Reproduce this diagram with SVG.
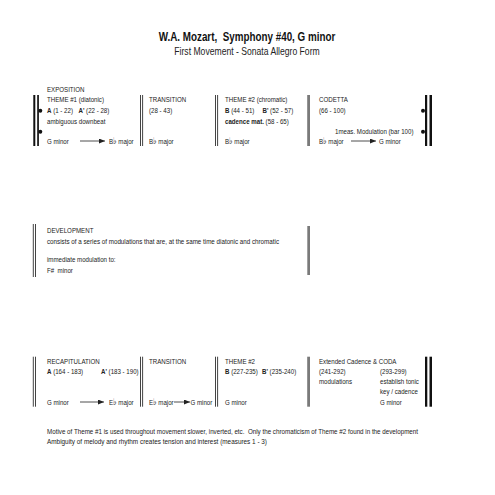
<svg xmlns="http://www.w3.org/2000/svg" width="495" height="495" viewBox="0 0 495 495">
<style>
.t{font-family:"Liberation Sans",Arial,"DejaVu Sans",sans-serif;font-size:7.5px;fill:#222}
.b{font-weight:bold}
.fl{font-family:"DejaVu Sans",sans-serif;font-size:9px}
.ti{font-family:"Liberation Sans",Arial,sans-serif;font-size:12px;font-weight:bold;fill:#111;text-anchor:middle}
.st{font-family:"Liberation Sans",Arial,sans-serif;font-size:10.5px;fill:#222;text-anchor:middle}
.thin{stroke:#444;stroke-width:1}
.heavy{fill:#111}
.gray{fill:#7a7a7a}
.arr{stroke:#222;stroke-width:0.8;fill:none;marker-end:url(#ah)}
</style>
<defs>
<marker id="ah" markerUnits="userSpaceOnUse" markerWidth="6" markerHeight="5" refX="6" refY="2.5" orient="auto">
<path d="M0,0 L6,2.5 L0,5 Z" fill="#222"/>
</marker>
</defs>
<rect width="495" height="495" fill="#fff"/>

<g id="title">
<text class="ti" transform="translate(247 41) scale(0.82 1)">W.A. Mozart,&#160; Symphony #40, G minor</text>
<text class="st" transform="translate(247 54.5) scale(0.82 1)">First Movement - Sonata Allegro Form</text>
</g>

<g id="exposition">
<g id="expo-bars">
<rect class="heavy" x="33.3" y="95" width="2" height="51"/>
<rect class="heavy" x="37.2" y="95" width="1.7" height="51"/>
<circle class="heavy" cx="40.3" cy="110.7" r="2"/>
<circle class="heavy" cx="40.3" cy="131.7" r="2"/>
<line class="thin" x1="140.5" y1="95" x2="140.5" y2="146"/>
<line class="thin" x1="142.6" y1="95" x2="142.6" y2="146"/>
<line class="thin" x1="215.5" y1="95" x2="215.5" y2="146"/>
<line class="thin" x1="217.6" y1="95" x2="217.6" y2="146"/>
<rect class="gray" x="307.2" y="95" width="2.8" height="51"/>
<circle class="heavy" cx="423" cy="110.7" r="2"/>
<circle class="heavy" cx="423" cy="131.7" r="2"/>
<rect class="heavy" x="425" y="95" width="2.2" height="51"/>
<rect class="heavy" x="429.5" y="95" width="2.5" height="51"/>
</g>
<g id="theme1">
<text class="t" transform="translate(47 91.7) scale(0.82 1)">EXPOSITION</text>
<text class="t" transform="translate(47 102.2) scale(0.82 1)">THEME #1 (diatonic)</text>
<text class="t" transform="translate(47 113.2) scale(0.82 1)"><tspan class="b">A</tspan> (1 - 22)</text>
<text class="t" transform="translate(78.5 113.2) scale(0.82 1)"><tspan class="b">A'</tspan> (22 - 28)</text>
<text class="t" transform="translate(47 124.2) scale(0.82 1)">ambiguous downbeat</text>
<text class="t" transform="translate(47 143.7) scale(0.82 1)">G minor</text>
<text class="t" transform="translate(109 143.7) scale(0.82 1)">B<tspan class="fl">♭</tspan> major</text>
</g>
<g id="transition1">
<text class="t" transform="translate(149 102.2) scale(0.82 1)">TRANSITION</text>
<text class="t" transform="translate(149 113.2) scale(0.82 1)">(28 - 43)</text>
<text class="t" transform="translate(149 143.7) scale(0.82 1)">B<tspan class="fl">♭</tspan> major</text>
</g>
<g id="theme2">
<text class="t" transform="translate(225 102.2) scale(0.82 1)">THEME #2 (chromatic)</text>
<text class="t" transform="translate(225 113.2) scale(0.82 1)"><tspan class="b">B</tspan> (44 - 51)</text>
<text class="t" transform="translate(262.5 113.2) scale(0.82 1)"><tspan class="b">B'</tspan> (52 - 57)</text>
<text class="t" transform="translate(225 124.2) scale(0.82 1)"><tspan class="b">cadence mat.</tspan> (58 - 65)</text>
<text class="t" transform="translate(225 143.7) scale(0.82 1)">B<tspan class="fl">♭</tspan> major</text>
</g>
<g id="codetta">
<text class="t" transform="translate(319 102.2) scale(0.82 1)">CODETTA</text>
<text class="t" transform="translate(319 113.2) scale(0.82 1)">(66 - 100)</text>
<text class="t" transform="translate(335 134.2) scale(0.82 1)">1meas. Modulation (bar 100)</text>
<text class="t" transform="translate(319 143.7) scale(0.82 1)">B<tspan class="fl">♭</tspan> major</text>
<text class="t" transform="translate(379 143.7) scale(0.82 1)">G minor</text>
</g>
</g>

<g id="development">
<line class="thin" x1="33.3" y1="224" x2="33.3" y2="277"/>
<line class="thin" x1="35.5" y1="224" x2="35.5" y2="277"/>
<rect class="gray" x="307.3" y="226" width="2.7" height="49"/>
<text class="t" transform="translate(47 232.7) scale(0.82 1)">DEVELOPMENT</text>
<text class="t" x="47" y="243.7" textLength="232" lengthAdjust="spacingAndGlyphs">consists of a series of modulations that are, at the same time diatonic and chromatic</text>
<text class="t" transform="translate(47 262.2) scale(0.82 1)">immediate modulation to:</text>
<text class="t" transform="translate(47 273.2) scale(0.82 1)">F#&#160; minor</text>
</g>

<g id="recapitulation">
<g id="recap-bars">
<line class="thin" x1="33.3" y1="356.7" x2="33.3" y2="406.7"/>
<line class="thin" x1="35.5" y1="356.7" x2="35.5" y2="406.7"/>
<line class="thin" x1="140.5" y1="356.7" x2="140.5" y2="406.7"/>
<line class="thin" x1="142.6" y1="356.7" x2="142.6" y2="406.7"/>
<line class="thin" x1="215.5" y1="356.7" x2="215.5" y2="406.7"/>
<line class="thin" x1="217.6" y1="356.7" x2="217.6" y2="406.7"/>
<rect class="gray" x="307.2" y="356.7" width="2.8" height="50"/>
<rect class="heavy" x="425" y="356.7" width="2.3" height="50"/>
<rect class="heavy" x="429.5" y="356.7" width="2.5" height="50"/>
</g>
<g id="recap-theme1">
<text class="t" transform="translate(47 363.7) scale(0.82 1)">RECAPITULATION</text>
<text class="t" transform="translate(47 373.7) scale(0.82 1)"><tspan class="b">A</tspan> (164 - 183)</text>
<text class="t" transform="translate(101 373.7) scale(0.82 1)"><tspan class="b">A'</tspan> (183 - 190)</text>
<text class="t" transform="translate(47 404.7) scale(0.82 1)">G minor</text>
<text class="t" transform="translate(109 404.7) scale(0.82 1)">E<tspan class="fl">♭</tspan> major</text>
</g>
<g id="recap-transition">
<text class="t" transform="translate(149 363.7) scale(0.82 1)">TRANSITION</text>
<text class="t" transform="translate(149 404.7) scale(0.82 1)">E<tspan class="fl">♭</tspan> major</text>
<text class="t" transform="translate(190.5 404.7) scale(0.82 1)">G minor</text>
</g>
<g id="recap-theme2">
<text class="t" transform="translate(225 363.7) scale(0.82 1)">THEME #2</text>
<text class="t" transform="translate(225 373.7) scale(0.82 1)"><tspan class="b">B</tspan> (227-235)</text>
<text class="t" transform="translate(262 373.7) scale(0.82 1)"><tspan class="b">B'</tspan> (235-240)</text>
<text class="t" transform="translate(225 404.7) scale(0.82 1)">G minor</text>
</g>
<g id="coda">
<text class="t" transform="translate(319 363.7) scale(0.82 1)">Extended Cadence &amp; CODA</text>
<text class="t" transform="translate(319 373.7) scale(0.82 1)">(241-292)</text>
<text class="t" transform="translate(380 373.7) scale(0.82 1)">(293-299)</text>
<text class="t" transform="translate(319 383.7) scale(0.82 1)">modulations</text>
<text class="t" transform="translate(380 383.7) scale(0.82 1)">establish tonic</text>
<text class="t" transform="translate(380 394.2) scale(0.82 1)">key / cadence</text>
<text class="t" transform="translate(380 404.7) scale(0.82 1)">G minor</text>
</g>
</g>

<g id="connectors">
<line class="arr" x1="80" y1="141" x2="105" y2="141"/>
<line class="arr" x1="351" y1="141" x2="376" y2="141"/>
<line class="arr" x1="80" y1="402" x2="104" y2="402"/>
<line class="arr" x1="174" y1="402" x2="190" y2="402"/>
</g>

<g id="footer">
<text class="t" x="47" y="434.4" textLength="371" lengthAdjust="spacingAndGlyphs">Motive of Theme #1 is used throughout movement slower, inverted, etc.&#160; Only the chromaticism of Theme #2 found in the development</text>
<text class="t" x="47" y="444" textLength="220" lengthAdjust="spacingAndGlyphs">Ambiguity of melody and rhythm creates tension and interest (measures 1 - 3)</text>
</g>
</svg>
